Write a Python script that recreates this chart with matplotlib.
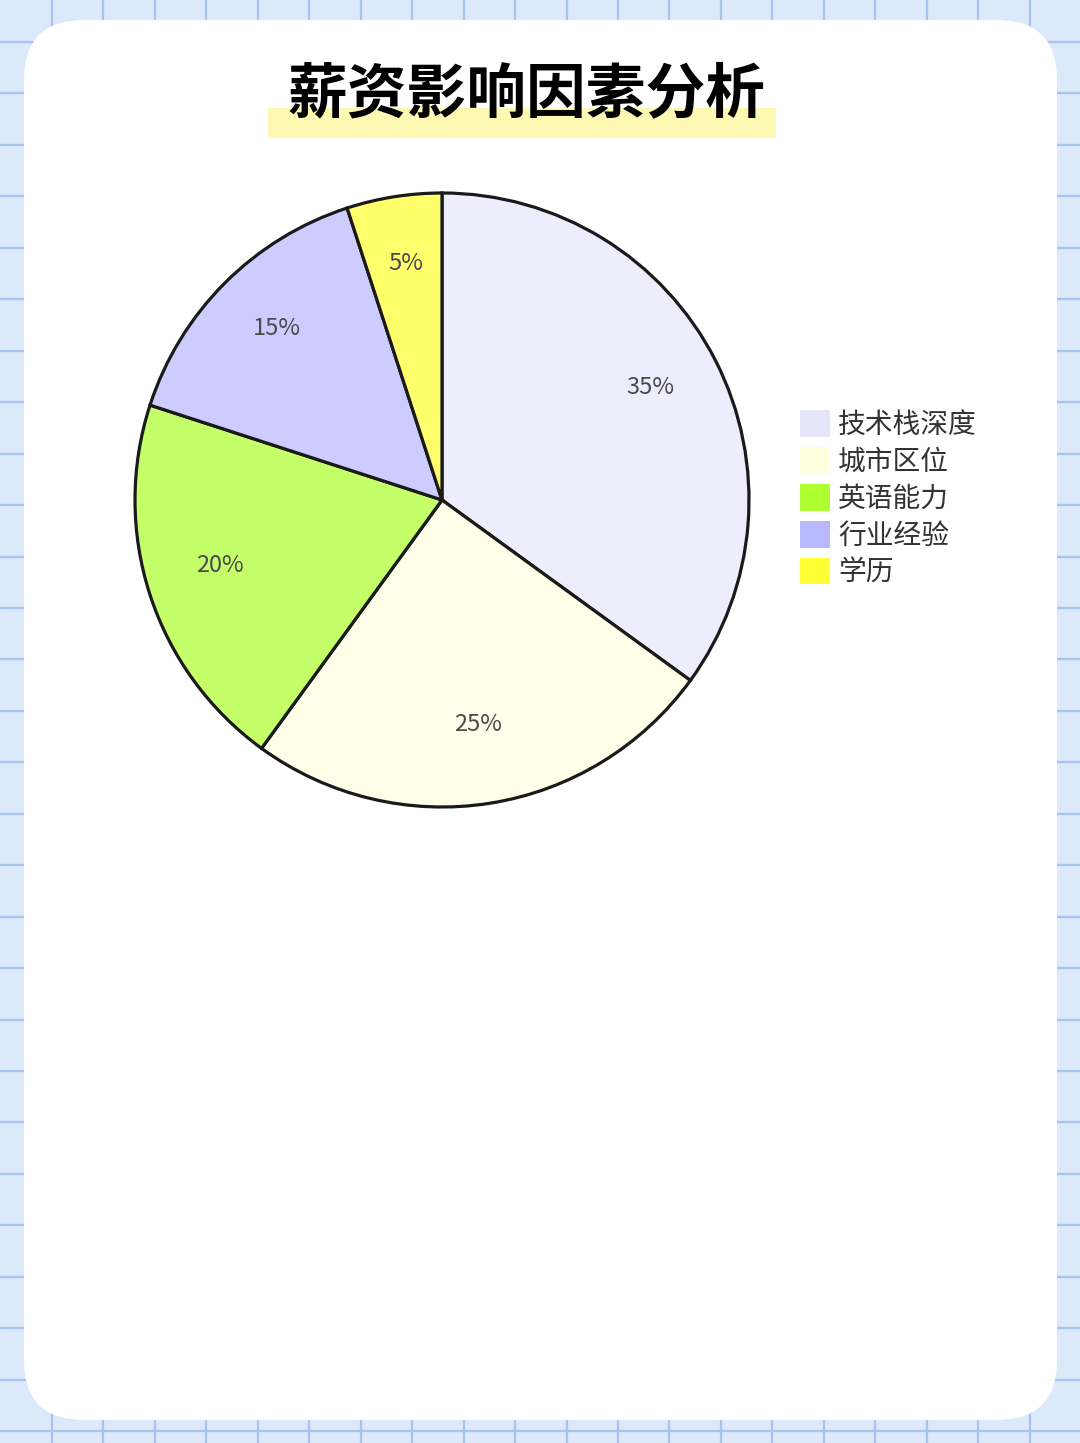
import matplotlib
matplotlib.use("Agg")
import matplotlib.pyplot as plt
from matplotlib.patches import FancyBboxPatch, Rectangle, Patch
from matplotlib.colors import to_rgb
import numpy as np

plt.rcParams['font.family'] = ['Noto Sans CJK SC', 'DejaVu Sans']

title = "薪资影响因素分析"
categories = ["技术栈深度", "城市区位", "英语能力", "行业经验", "学历"]
values = [35, 25, 20, 15, 5]
base_colors = ["#E6E6FA", "#FFFFE0", "#ADFF2F", "#B8B8FF", "#FFFF33"]

W, H = 1080, 1443
fig = plt.figure(figsize=(W / 100, H / 100), dpi=100)
fig.patch.set_facecolor("#DCE9FB")

# background grid
bg = fig.add_axes([0, 0, 1, 1])
bg.set_xlim(0, W)
bg.set_ylim(H, 0)
bg.axis("off")
step = 51.45
x = 52.0
while x < W:
    bg.axvline(x, color="#A9C3EE", lw=1.6, zorder=0)
    x += step
y = 42.0
while y < H:
    bg.axhline(y, color="#A9C3EE", lw=1.6, zorder=0)
    y += step

# white card
card = FancyBboxPatch((24 + 60, 20 + 60), 1033 - 120, 1400 - 120,
                      boxstyle="round,pad=60", facecolor="white",
                      edgecolor="none", zorder=1)
bg.add_patch(card)

# title highlight and title
bg.add_patch(Rectangle((268, 108), 508, 30, facecolor="#FDF8B2",
                       edgecolor="none", zorder=2))
bg.text(526, 95, title, ha="center", va="center", fontsize=43,
        fontweight="bold", color="black", zorder=3)

# pie
cx, cy, r = 442, 500, 307
lim = 1.1
side = 2 * lim * r
ax = fig.add_axes([(cx - lim * r) / W, (H - cy - lim * r) / H, side / W, side / H])
ax.set_facecolor("none")

def blend(c, a=0.72):
    rgb = np.array(to_rgb(c))
    return tuple(rgb * a + (1 - a))

face_colors = [blend(c) for c in base_colors]
wedges, texts, autotexts = ax.pie(
    values, colors=face_colors, startangle=90, counterclock=False,
    autopct=lambda p: f"{p:.0f}%", pctdistance=0.76,
    wedgeprops=dict(edgecolor="#1a1a1a", linewidth=2.3),
    textprops=dict(fontsize=17, color="#4a4a4a", fontweight="medium"))
for t in autotexts:
    xx, yy = t.get_position()
    t.set_position((xx, yy + 0.02))
ax.set_xlim(-lim, lim)
ax.set_ylim(-lim, lim)
ax.set_aspect("equal")

handles = [Patch(facecolor=c, edgecolor="none") for c in base_colors]
leg = fig.legend(handles, categories, loc="upper left",
                 bbox_to_anchor=(800 / W, 1 - 410 / H), frameon=False,
                 fontsize=20, handlelength=1.08, handleheight=1.08,
                 handletextpad=0.29, labelspacing=0.25, borderaxespad=0,
                 borderpad=0)
for t in leg.get_texts():
    t.set_color("#333333")

fig.savefig("out.png", dpi=100, facecolor=fig.get_facecolor())
